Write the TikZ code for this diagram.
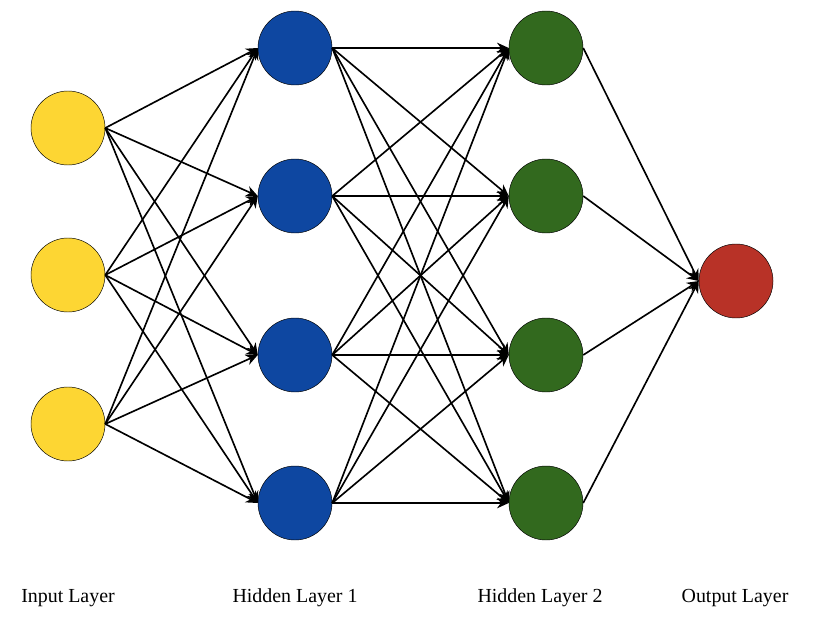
\documentclass[tikz,border=0pt]{standalone}
\usepackage{fontspec}
\setmainfont{Liberation Serif}
\usetikzlibrary{arrows.meta}
\definecolor{inyellow}{RGB}{253,214,51}
\definecolor{hidblue}{RGB}{14,71,161}
\definecolor{hidgreen}{RGB}{50,105,30}
\definecolor{outred}{RGB}{184,50,39}
\tikzset{
  neuron/.style={circle,draw=black,thin,minimum size=2.22cm,inner sep=0pt},
  link/.style={-{Stealth[length=10pt,width=9pt]},line width=1.4pt},
  layerlabel/.style={font=\fontsize{17}{20}\selectfont}
}
\begin{document}
\begin{tikzpicture}[x=0.03cm,y=-0.03cm]
  \useasboundingbox (0,0) rectangle (825,625);

  % Neurons
  \foreach \i/\y in {1/128,2/275,3/424}
    \node[neuron,fill=inyellow] (in\i) at (68,\y) {};
  \foreach \i/\y in {1/48,2/196,3/355,4/503} {
    \node[neuron,fill=hidblue] (ha\i) at (295,\y) {};
    \node[neuron,fill=hidgreen] (hb\i) at (546,\y) {};
  }
  \node[neuron,fill=outred] (out) at (736,281) {};

  % Connections
  \foreach \i in {1,2,3}
    \foreach \j in {1,...,4}
      \draw[link] (in\i.east) -- (ha\j.west);
  \foreach \i in {1,...,4}
    \foreach \j in {1,...,4}
      \draw[link] (ha\i.east) -- (hb\j.west);
  \foreach \i in {1,...,4}
    \draw[link] (hb\i.east) -- (out.west);

  % Labels
  \node[layerlabel] (lin) at (68,598) {Input Layer};
  \node[layerlabel] (lha) at (295,598) {Hidden Layer 1};
  \node[layerlabel] (lhb) at (540,598) {Hidden Layer 2};
  \node[layerlabel] (lout) at (735,598) {Output Layer};
\end{tikzpicture}
\end{document}
